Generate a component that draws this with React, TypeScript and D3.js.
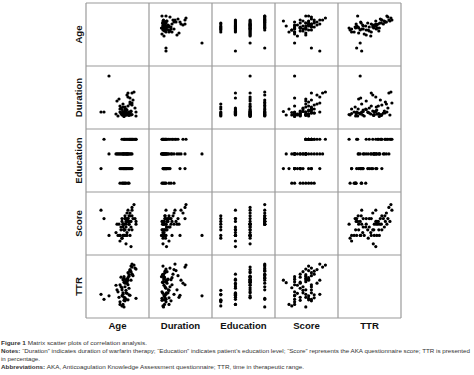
import React from 'react';
import * as d3 from 'd3';

const variables = ['Age', 'Duration', 'Education', 'Score', 'TTR'];

// one entry per patient (years, months, level 1-4, AKA score, TTR %)
const age = [56, 54, 58, 60, 57, 62, 59, 63,
  60, 56, 62, 58, 61, 55, 63, 59, 66, 57, 54, 60, 64, 58, 65, 35,
  66, 64, 62, 61, 63, 57, 60, 59, 58, 65, 55, 52, 56, 54, 61, 58, 60, 43, 51, 62, 50, 57, 53,
  68, 66, 64, 69, 65, 60, 62, 58, 67, 63, 56, 59, 70, 38, 61, 66, 64, 58, 70];
const duration = [8, 14, 6, 20, 30, 10, 24, 12,
  18, 10, 52, 12, 8, 22, 14, 16, 9, 11, 20, 13, 42, 10, 15, 14,
  52, 30, 12, 18, 9, 24, 14, 20, 7, 16, 11, 6, 13, 26, 9, 5, 8, 86, 36, 44, 10, 15, 40,
  54, 32, 12, 22, 8, 16, 26, 10, 38, 7, 19, 12, 14, 14, 48, 28, 34, 9, 6];
const education = [1, 1, 1, 1, 1, 1, 1, 1,
  2, 2, 2, 2, 2, 2, 2, 2, 2, 2, 2, 2, 2, 2, 2, 2,
  3, 3, 3, 3, 3, 3, 3, 3, 3, 3, 3, 3, 3, 3, 3, 3, 3, 3, 3, 3, 3, 3, 3,
  4, 4, 4, 4, 4, 4, 4, 4, 4, 4, 4, 4, 4, 4, 4, 4, 4, 4, 4];
const score = [7, 8, 10, 11, 12, 13, 14, 15,
  14, 13, 14, 10, 9, 11, 10, 10, 10, 8, 6, 8, 8, 8, 4, 17,
  18, 16, 14, 13, 12, 12, 12, 15, 10, 11, 10, 8, 7, 8, 8, 8, 5, 8, 12, 17, 9, 11, 12,
  19, 17, 15, 14, 13, 13, 13, 12, 14, 12, 14, 14, 12, 14, 16, 15, 13, 12, 13];
const ttr = [9, 17, 20, 40, 32, 21, 19, 31,
  35, 29, 51, 26, 34, 47, 44, 54, 72, 12, 12, 22, 30, 62, 60, 32,
  86, 81, 75, 62, 68, 61, 57, 25, 56, 77, 66, 37, 45, 51, 57, 67, 55, 29, 41, 60, 50, 35, 26,
  90, 92, 78, 84, 88, 60, 65, 64, 69, 71, 41, 47, 82, 22, 54, 72, 79, 7, 24];

const series: Record<string, number[]> = {
  Age: age, Duration: duration, Education: education, Score: score, TTR: ttr,
};
const domains: Record<string, [number, number]> = {
  Age: [20, 83], Duration: [-20, 106], Education: [0.4, 4.7], Score: [1, 23.5], TTR: [-15, 110],
};

const captionTitle = 'Matrix scatter plots of correlation analysis.';
const notesText = '\u201CDuration\u201D indicates duration of warfarin therapy; \u201CEducation\u201D indicates patient\u2019s education level; \u201CScore\u201D represents the AKA questionnaire score; TTR is presented';
const notesText2 = 'in percentage.';
const abbrevText = 'AKA, Anticoagulation Knowledge Assessment questionnaire; TTR, time in therapeutic range.';

export default function App() {
  const W = 474, H = 375;
  const col = d3.scaleBand<string>().domain(variables).range([86, 401]);
  const row = d3.scaleBand<string>().domain(variables).range([3, 318]);
  const bw = col.bandwidth();
  const bh = row.bandwidth();
  const n = age.length;
  const idx = d3.range(n);

  return (
    <svg width={W} height={H} style={{ position: 'absolute', left: 0, top: 0, background: '#fff' }}>
      <rect x={0} y={0} width={W} height={H} fill="#fff" />
      {variables.map((rv) =>
        variables.map((cv) => {
          const x0 = col(cv)!;
          const y0 = row(rv)!;
          const xs = d3.scaleLinear().domain(domains[cv]).range([x0, x0 + bw]);
          const ys = d3.scaleLinear().domain(domains[rv]).range([y0 + bh, y0]);
          return (
            <g key={rv + cv}>
              {rv !== cv &&
                idx.map((i) => (
                  <circle key={i} cx={xs(series[cv][i])} cy={ys(series[rv][i])} r={1.6} fill="#000" />
                ))}
            </g>
          );
        })
      )}
      {variables.map((v) => (
        <g key={'g' + v}>
          <line x1={col(v)!} x2={col(v)!} y1={3} y2={318} stroke="#9a9a9a" strokeWidth={1.2} />
          <line x1={86} x2={401} y1={row(v)!} y2={row(v)!} stroke="#9a9a9a" strokeWidth={1.2} />
        </g>
      ))}
      <line x1={401} x2={401} y1={3} y2={318} stroke="#9a9a9a" strokeWidth={1.2} />
      <line x1={86} x2={401} y1={318} y2={318} stroke="#9a9a9a" strokeWidth={1.2} />
      {variables.map((v) => (
        <text key={'c' + v} x={col(v)! + bw / 2} y={329} textAnchor="middle"
          fontFamily="Liberation Sans, Arial, sans-serif" fontWeight="bold" fontSize={9.6} fill="#111">{v}</text>
      ))}
      {variables.map((v) => (
        <text key={'r' + v} transform={`translate(81.5,${row(v)! + bh / 2}) rotate(-90)`} textAnchor="middle"
          fontFamily="Liberation Sans, Arial, sans-serif" fontWeight="bold" fontSize={9.6} fill="#111">{v}</text>
      ))}
      <g fontFamily="Liberation Sans, Arial, sans-serif" fontSize={5.6} fill="#333">
        <text x={1} y={344.5} textLength={146} lengthAdjust="spacingAndGlyphs">
          <tspan fontWeight="bold">Figure 1 </tspan>{captionTitle}
        </text>
        <text x={1} y={353.3} textLength={469} lengthAdjust="spacingAndGlyphs">
          <tspan fontWeight="bold">Notes: </tspan>{notesText}
        </text>
        <text x={1} y={361} textLength={39} lengthAdjust="spacingAndGlyphs">{notesText2}</text>
        <text x={1} y={368.5} textLength={303} lengthAdjust="spacingAndGlyphs">
          <tspan fontWeight="bold">Abbreviations: </tspan>{abbrevText}
        </text>
      </g>
    </svg>
  );
}
